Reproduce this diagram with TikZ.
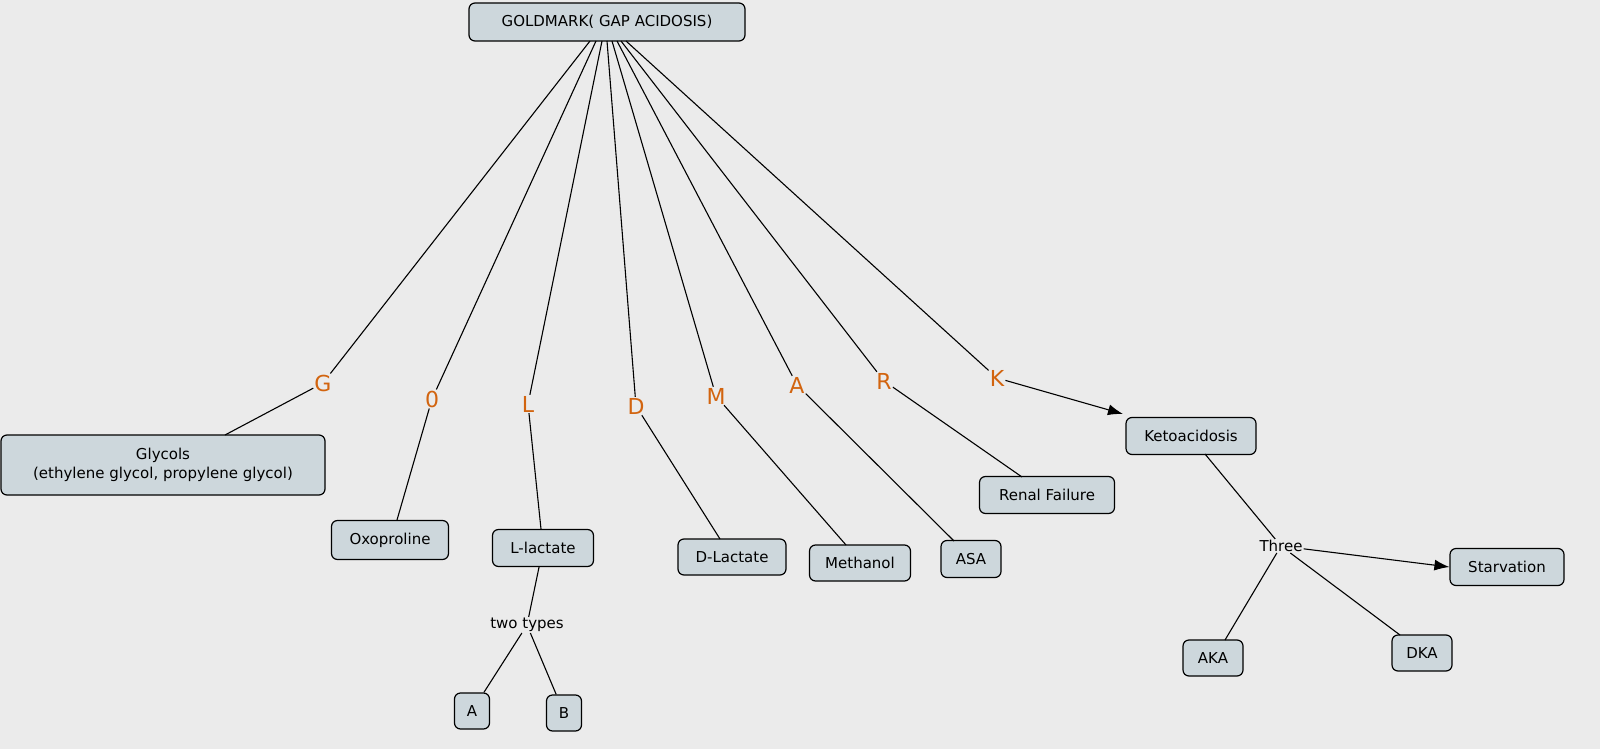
\documentclass[tikz,border=0pt]{standalone}
\usepackage{fontspec}
\setmainfont{DejaVu Sans}
\usetikzlibrary{arrows.meta}
\definecolor{bg}{HTML}{EBEBEB}
\definecolor{boxf}{HTML}{CDD7DC}
\definecolor{org}{HTML}{D2640F}
\begin{document}
\begin{tikzpicture}[x=1pt,y=-1pt,
  cbox/.style={draw=black,fill=boxf,rounded corners=6pt,line width=1.2pt,font=\fontsize{15}{19}\selectfont,align=center,inner sep=0pt},
  lett/.style={text=org,font=\fontsize{22}{24}\selectfont,inner sep=1pt},
  lbl/.style={font=\fontsize{15}{18}\selectfont,inner sep=1pt,fill=bg},
  ln/.style={line width=1.1pt},
  arr/.style={line width=1.1pt,-{Latex[length=15pt,width=11pt]}}]
\fill[bg] (0,0) rectangle (1600,749);
\useasboundingbox (0,0) rectangle (1600,749);
\node[cbox,minimum width=276pt,minimum height=38pt] (top) at (607,22) {GOLDMARK( GAP ACIDOSIS)};
\node[cbox,minimum width=324pt,minimum height=60pt] (gly) at (163,465) {Glycols\\(ethylene glycol, propylene glycol)};
\node[cbox,minimum width=117pt,minimum height=39pt] (oxo) at (390,540) {Oxoproline};
\node[cbox,minimum width=101pt,minimum height=37pt] (ll) at (543,548) {L-lactate};
\node[cbox,minimum width=108pt,minimum height=36pt] (dl) at (732,557) {D-Lactate};
\node[cbox,minimum width=101pt,minimum height=36pt] (meth) at (860,563) {Methanol};
\node[cbox,minimum width=60pt,minimum height=37pt] (asa) at (971,559) {ASA};
\node[cbox,minimum width=135pt,minimum height=37pt] (ren) at (1047,495) {Renal Failure};
\node[cbox,minimum width=130pt,minimum height=37pt] (keto) at (1191,436) {Ketoacidosis};
\node[cbox,minimum width=114pt,minimum height=37pt] (starv) at (1507,567) {Starvation};
\node[cbox,minimum width=60pt,minimum height=36pt] (aka) at (1213,658) {AKA};
\node[cbox,minimum width=60pt,minimum height=36pt] (dka) at (1422,653) {DKA};
\node[cbox,minimum width=35pt,minimum height=36pt] (a) at (472,711) {A};
\node[cbox,minimum width=35pt,minimum height=36pt] (b) at (564,713) {B};
\node[lett] (G) at (323,383) {G};
\node[lett] (O) at (432,399) {0};
\node[lett] (L) at (528,404) {L};
\node[lett] (D) at (636,406) {D};
\node[lett] (M) at (716,396) {M};
\node[lett] (A) at (797,385) {A};
\node[lett] (R) at (884,381) {R};
\node[lett] (K) at (997,378) {K};
\node[lbl] (two) at (527,625) {two types};
\node[lbl] (three) at (1281,546) {Three};
\coordinate (tG) at (590,41); \coordinate (tO) at (596,41); \coordinate (tL) at (602,41);
\coordinate (tD) at (607,41); \coordinate (tM) at (612,41); \coordinate (tA) at (617,41);
\coordinate (tR) at (621,41); \coordinate (tK) at (626,41);
\draw[ln] (tG) -- (G); \draw[ln] (tO) -- (O); \draw[ln] (tL) -- (L); \draw[ln] (tD) -- (D);
\draw[ln] (tM) -- (M); \draw[ln] (tA) -- (A); \draw[ln] (tR) -- (R); \draw[ln] (tK) -- (K);
\draw[ln] (G) -- (225,435); \draw[ln] (O) -- (397,520);
\draw[ln] (L) -- (541,529); \draw[ln] (D) -- (720,539);
\draw[ln] (M) -- (846,545); \draw[ln] (A) -- (954,541);
\draw[ln] (R) -- (1022,477);
\draw[arr] (K) -- (1123,414);
\draw[ln] (1205,454) -- (three);
\draw[arr] (three) -- (starv.west);
\draw[ln] (three) -- (1225,640); \draw[ln] (three) -- (1400,635);
\draw[ln] (ll) -- (two); \draw[ln] (two) -- (a); \draw[ln] (two) -- (b);
\end{tikzpicture}
\end{document}
